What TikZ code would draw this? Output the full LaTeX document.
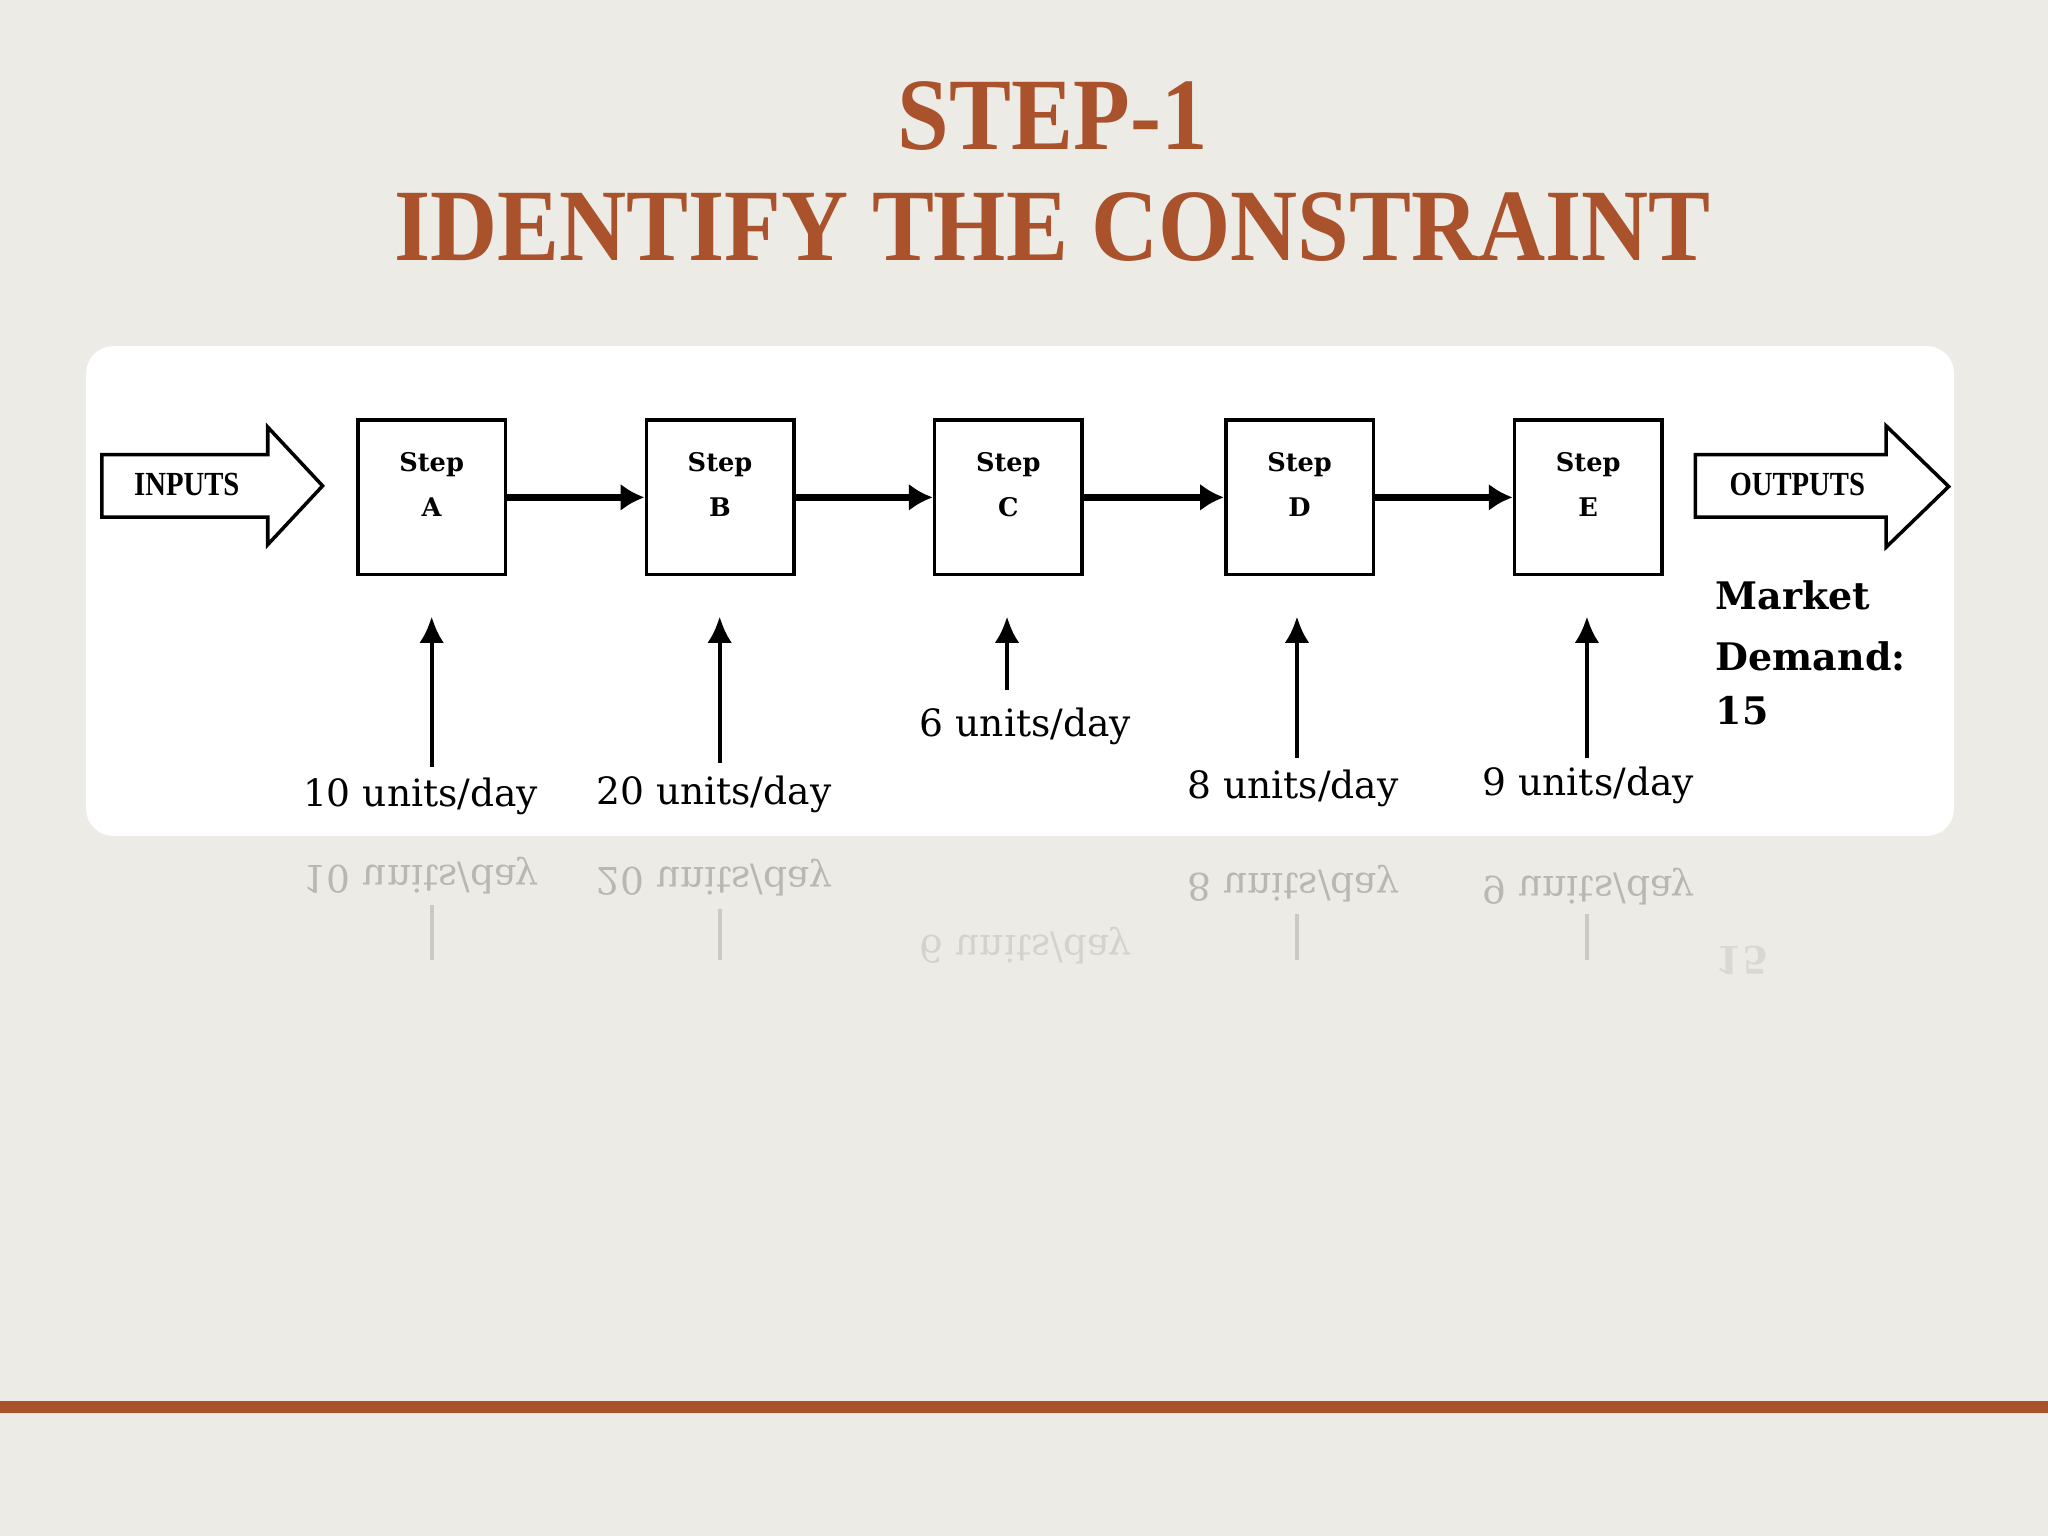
\documentclass[tikz,border=0pt]{standalone}
\usepackage{fontspec}
\setmainfont{DejaVu Serif}
\newfontfamily\titlefont[FakeStretch=0.905]{Liberation Serif}
\newfontfamily\blockfont[FakeStretch=0.85]{Liberation Serif}
\usetikzlibrary{arrows.meta}
\definecolor{rust}{RGB}{169,82,44}
\definecolor{paperdark}{RGB}{236,235,230}
\definecolor{paperlight}{RGB}{245,244,241}

\begin{document}
\begin{tikzpicture}[x=0.013061cm, y=-0.013061cm,
    stepbox/.style={draw, line width=1pt, minimum width=1.476cm, minimum height=1.545cm, inner sep=0pt},
    steptext/.style={font=\bfseries\fontsize{7.3}{12.9}\selectfont, align=center, inner sep=0pt},
    rate/.style={font=\fontsize{10.7}{13}\selectfont, anchor=base, inner sep=0pt},
    demand/.style={font=\bfseries\fontsize{10.8}{13}\selectfont, anchor=base west, inner sep=0pt},
    flow/.style={-{Latex[length=6.8pt,width=7.8pt]}, line width=1.9pt},
    feed/.style={-{Latex[length=7.5pt,width=7pt]}, line width=1.2pt},
    block/.style={draw, line width=1pt, fill=white, line join=miter},
    blocktext/.style={font=\blockfont\bfseries\fontsize{9.6}{11}\selectfont, anchor=base, inner sep=0pt},
    title/.style={font=\titlefont\bfseries\fontsize{29.2}{32}\selectfont, text=rust, anchor=base, inner sep=0pt}]
    \useasboundingbox (0,0) rectangle (1568,1176);
    \shade[left color=paperdark, middle color=paperlight, right color=paperdark] (0,0) rectangle (1568,1176);
    % heading
    \node[title] (stepno) at (806,114.8) {STEP-1};
    \node[title] (goal) at (806,199.8) {IDENTIFY THE CONSTRAINT};
    \fill[rust] (0,1073) rectangle (1568,1082);
    % white panel
    \fill[white, rounded corners=0.27cm] (66,265) rectangle (1496,640);
    % in and out
    \draw[block] (78,348) -- (205,348) -- (205,327) -- (247,372) -- (205,417) -- (205,396) -- (78,396) -- cycle;
    \node[blocktext] (inputs) at (143,379) {INPUTS};
    \draw[block] (1298,348) -- (1444,348) -- (1444,326) -- (1492,372.5) -- (1444,419) -- (1444,396) -- (1298,396) -- cycle;
    \node[blocktext] (outputs) at (1376,379) {OUTPUTS};
    % steps
    \node[stepbox] (stepA) at (330.5,380.8) {};
    \node[stepbox] (stepB) at (551.3,380.8) {};
    \node[stepbox] (stepC) at (772,380.8) {};
    \node[stepbox] (stepD) at (995,380.8) {};
    \node[stepbox] (stepE) at (1216,380.8) {};
    \node[steptext] (nameA) at (330.5,371) {Step\\A};
    \node[steptext] (nameB) at (551.3,371) {Step\\B};
    \node[steptext] (nameC) at (772,371) {Step\\C};
    \node[steptext] (nameD) at (995,371) {Step\\D};
    \node[steptext] (nameE) at (1216,371) {Step\\E};
    \draw[flow] (stepA) -- (stepB);
    \draw[flow] (stepB) -- (stepC);
    \draw[flow] (stepC) -- (stepD);
    \draw[flow] (stepD) -- (stepE);
    % capacities
    \coordinate (tipA) at (330.5,472);
    \coordinate (tipB) at (551,472);
    \coordinate (tipC) at (771,472);
    \coordinate (tipD) at (993,472);
    \coordinate (tipE) at (1215,472);
    \coordinate (tailA) at (330.5,587);
    \coordinate (tailB) at (551,584);
    \coordinate (tailC) at (771,528);
    \coordinate (tailD) at (993,580);
    \coordinate (tailE) at (1215,580);
    \draw[feed] (tailA) -- (tipA);
    \draw[feed] (tailB) -- (tipB);
    \draw[feed] (tailC) -- (tipC);
    \draw[feed] (tailD) -- (tipD);
    \draw[feed] (tailE) -- (tipE);
    \node[rate] (rateA) at (322,617.6) {10 units/day};
    \node[rate] (rateB) at (546.5,616) {20 units/day};
    \node[rate] (rateC) at (785,564) {6 units/day};
    \node[rate] (rateD) at (990,611) {8 units/day};
    \node[rate] (rateE) at (1216,609) {9 units/day};
    \node[demand] (market) at (1313,466.4) {Market};
    \node[demand] (demandword) at (1313,513) {Demand:};
    \node[demand] (demandval) at (1313,555) {15};
    % faint mirror under the panel
    \begin{scope}[shift={(0,1280)}, yscale=-1, transform shape]
    \node[rate, opacity=0.22] (mirrorA) at (322,617.6) {10 units/day};
    \node[rate, opacity=0.22] (mirrorB) at (546.5,616) {20 units/day};
    \node[rate, opacity=0.1] (mirrorC) at (785,564) {6 units/day};
    \node[rate, opacity=0.22] (mirrorD) at (990,611) {8 units/day};
    \node[rate, opacity=0.22] (mirrorE) at (1216,609) {9 units/day};
    \node[demand, opacity=0.08] (mirrorval) at (1313,555) {15};
    \coordinate (mbaseA) at (330.5,587);
    \coordinate (mbaseB) at (551,584);
    \coordinate (mbaseD) at (993,580);
    \coordinate (mbaseE) at (1215,580);
    \coordinate (mendA) at (330.5,545);
    \coordinate (mendB) at (551,545);
    \coordinate (mendD) at (993,545);
    \coordinate (mendE) at (1215,545);
    \draw[line width=1.2pt, opacity=0.14] (mbaseA) -- (mendA);
    \draw[line width=1.2pt, opacity=0.14] (mbaseB) -- (mendB);
    \draw[line width=1.2pt, opacity=0.14] (mbaseD) -- (mendD);
    \draw[line width=1.2pt, opacity=0.14] (mbaseE) -- (mendE);
    \end{scope}
\end{tikzpicture}
\end{document}
